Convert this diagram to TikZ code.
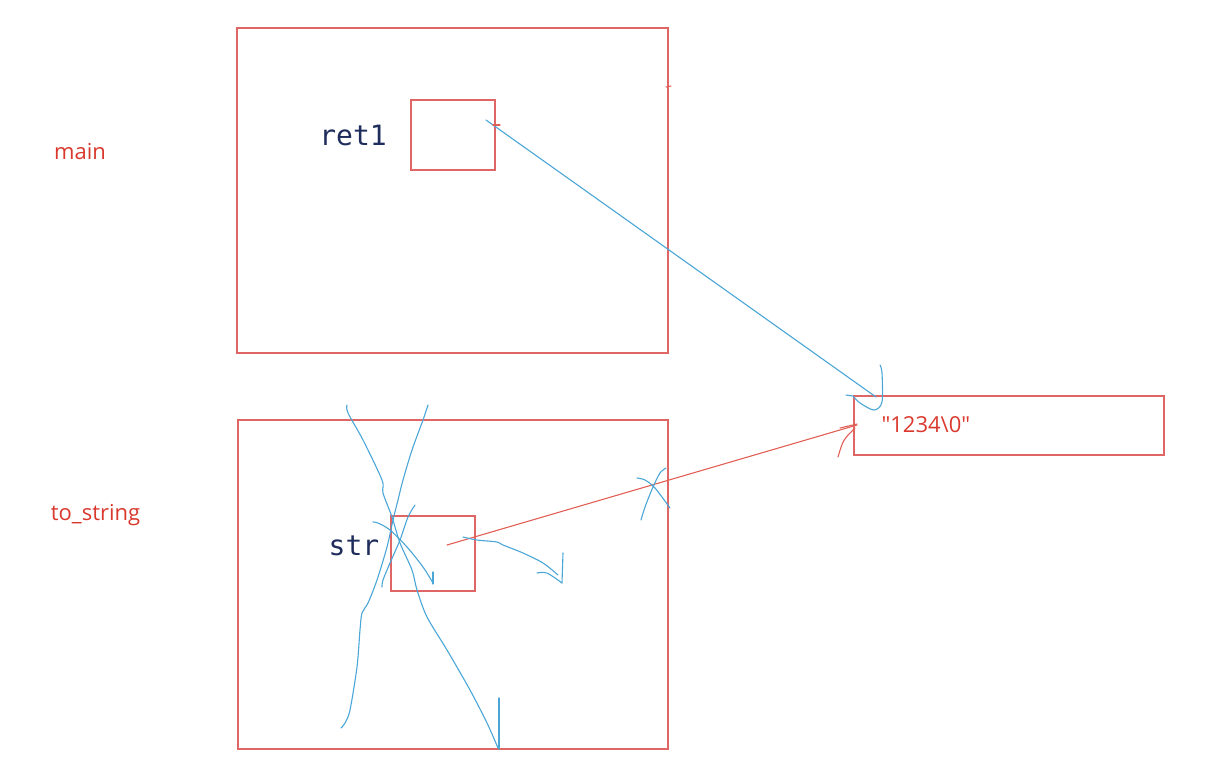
\documentclass[tikz,border=0pt]{standalone}
\usepackage{fontspec}
\setmainfont{Open Sans}[Ligatures=TeXOff]
\setmonofont{DejaVu Sans Mono}
\usepackage{tikz}
\usetikzlibrary{positioning}
\definecolor{framered}{HTML}{E06666}
\definecolor{labelred}{HTML}{D9382C}
\definecolor{inkblue}{HTML}{4AA6D6}
\definecolor{codenavy}{HTML}{1F2D5C}

\begin{document}
\begin{tikzpicture}[
        x=1pt, y=-1pt,
        frame/.style={rectangle, draw=framered, line width=1.1pt, inner sep=0pt, outer sep=0pt},
        lbl/.style={text=labelred, font=\fontsize{22}{26}\selectfont},
        var/.style={text=codenavy, font=\ttfamily\fontsize{28}{30}\selectfont},
        ink/.style={draw=inkblue, line width=1.1pt, line cap=round, line join=round},
        redink/.style={draw=labelred!80, line width=1.1pt, line cap=round, line join=round},
    ]
        \useasboundingbox (0,0) rectangle (1215,782);

        % Frames
        \node[frame, minimum width=431, minimum height=325] (mainframe) at (452.5,190.5) {};
        \node[frame, minimum width=430, minimum height=329] (tsframe) at (453,584.5) {};
        \node[lbl] (mainlbl) at (80,152) {main};
        \node[lbl] (tslbl) at (95.5,515) {to\_string};

        % Variables
        \node[frame, minimum width=84, minimum height=70] (retbox) at (453,135) {};
        \node[var] (retlbl) at (353,135) {ret1};
        \node[frame, minimum width=84, minimum height=75] (strbox) at (433,553.5) {};
        \node[var] (strlbl) at (354,546) {str};

        % String constant
        \node[frame, minimum width=310, minimum height=59] (constbox) at (1009,425.5) {};
        \node[lbl, anchor=west] (constlbl) at (878,425) {"1234\textbackslash0"};

        % Pointers
        \coordinate (retptr) at (486,120);
        \coordinate (rettip) at (876,397);
        \coordinate (strptr) at (447,545);
        \coordinate (strtip) at (857,425);
        \draw[ink] (retptr) -- (rettip);
        \draw[ink] plot[smooth] coordinates {(880,365) (882,373) (882,402) (874,410) (860,403) (853,396)} -- (846,395);
        \draw[redink] (strptr) -- (strtip);
        \draw[redink] (840,428) -- (857,424);
        \draw[redink] (838,457) .. controls (843,440) .. (855,428);
        \draw[redink] (493,125) -- (500,125);
        \draw[redink] (666,87) -- (671,86);

        % Crossing out
        \draw[ink] plot[smooth] coordinates {(347,405) (348,413) (363,440) (382,480) (383,493) (392,517) (400,543) (412,570) (417,590) (427,617) (447,650) (470,690) (487,723) (498,748)};
        \draw[ink] plot[smooth] coordinates {(428,405) (423,420) (412,450) (403,480) (398,500) (393,520) (387,547) (377,580) (368,603) (362,613) (360,630) (357,667) (350,710) (345,723) (341,728)};
        \draw[ink] plot[smooth] coordinates {(415,505) (408,517) (400,540) (390,563) (383,580) (382,587)};
        \draw[ink] plot[smooth] coordinates {(373,522) (378,523) (390,530) (407,547) (423,567) (433,583)};
        \draw[ink] (433,572) -- (433,584);
        \draw[ink] plot[smooth] coordinates {(463,537) (477,540) (497,542) (503,545) (523,553) (543,563) (558,575)};
        \draw[ink] plot[smooth] coordinates {(537,573) (547,573) (562,583)};
        \draw[ink] (563,553) -- (562,583);
        \draw[ink] plot[smooth] coordinates {(637,478) (645,480) (655,488) (670,508)};
        \draw[ink] plot[smooth] coordinates {(666,468) (660,473) (653,487) (645,507) (641,520)};
        \draw[ink] (499,698) -- (499,749);
    \end{tikzpicture}
\end{document}
